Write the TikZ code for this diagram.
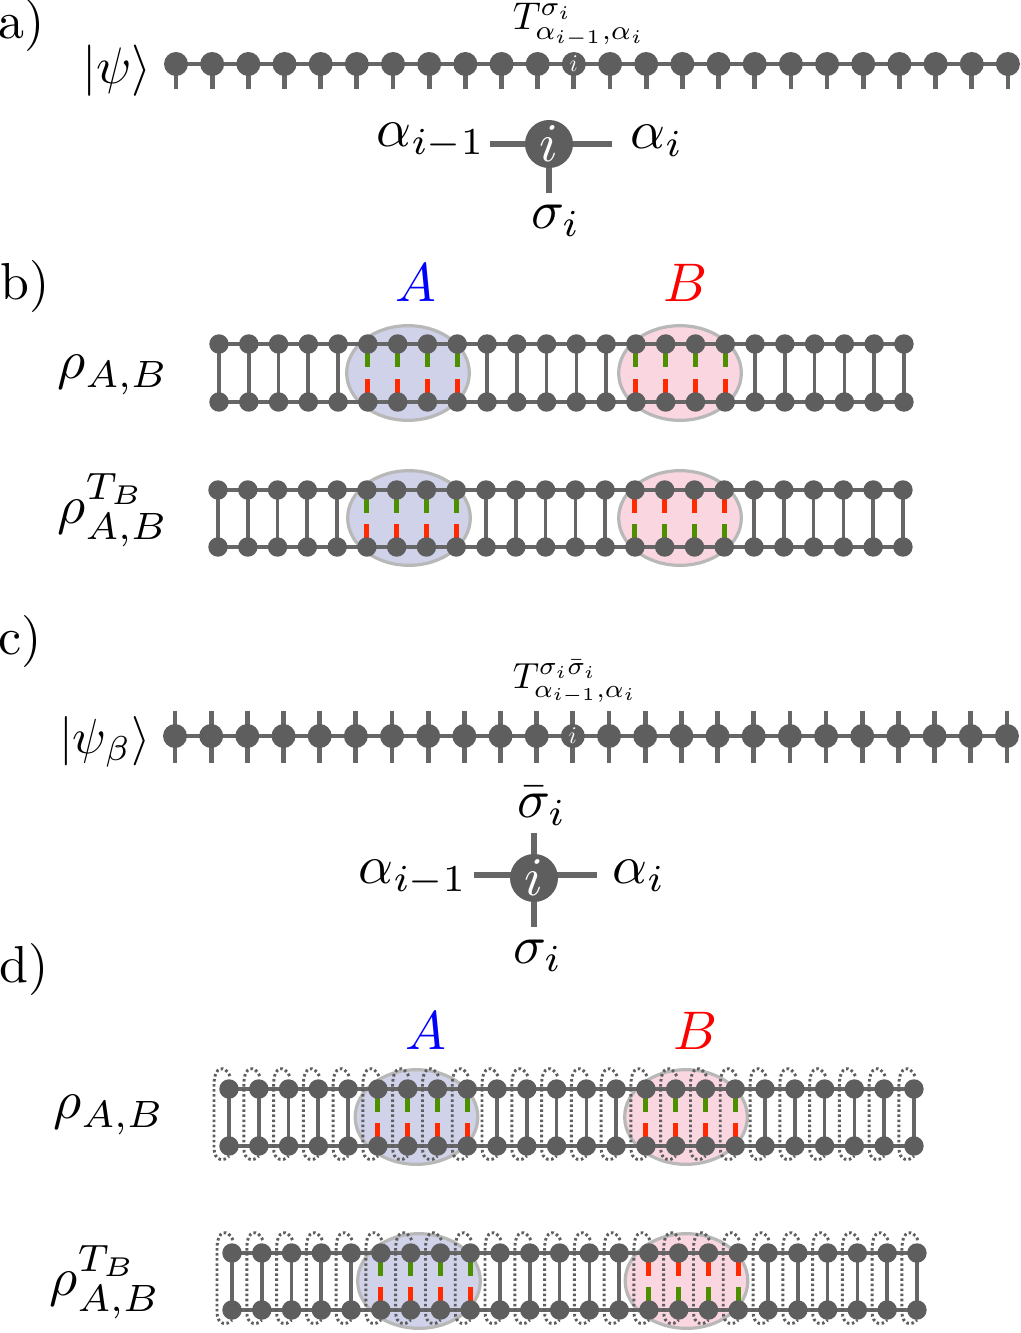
\documentclass[tikz,border=0pt]{standalone}
\usepackage{amsmath}
\usetikzlibrary{calc,shapes.geometric,backgrounds}
\definecolor{nodegrey}{HTML}{5E5E5E}
\definecolor{linegrey}{HTML}{666666}
\definecolor{blobblue}{HTML}{CFD2E8}
\definecolor{blobpink}{HTML}{F9D6E0}
\definecolor{blobedge}{HTML}{B8B8B8}
\definecolor{bargreen}{HTML}{4E8F00}
\definecolor{barred}{HTML}{FF2A00}
\pgfdeclarelayer{blobs}\pgfdeclarelayer{wires}
\pgfsetlayers{blobs,wires,main}
\tikzset{
  x=0.75pt,y=-0.75pt,
  smallsite/.style={circle,fill=nodegrey,draw=none,inner sep=0,minimum size=14.6pt},
  mpssite/.style={circle,fill=nodegrey,draw=none,inner sep=0,minimum size=18pt},
  tensor/.style={circle,fill=nodegrey,draw=none,inner sep=0,minimum size=36pt,text=white},
  wire/.style={draw=linegrey,line width=3.6pt},
  heavywire/.style={draw=linegrey,line width=4.4pt},
  thinwire/.style={draw=linegrey,line width=2.6pt},
  rung/.style={draw=linegrey,line width=2.8pt},
  gbar/.style={draw=bargreen,line width=3.8pt},
  rbar/.style={draw=barred,line width=3.8pt},
  blobA/.style={ellipse,draw=blobedge,fill=blobblue,line width=2.4pt,inner sep=0,minimum width=92pt,minimum height=71pt},
  blobB/.style={ellipse,draw=blobedge,fill=blobpink,line width=2.4pt,inner sep=0,minimum width=92pt,minimum height=71pt},
  loopline/.style={draw=nodegrey,line width=2.2pt,dash pattern=on 1.9pt off 1.9pt},
  big/.style={scale=4.08,inner sep=0},
  ket/.style={scale=3.85,inner sep=0},
  ketc/.style={scale=3.7,inner sep=0},
  lab/.style={scale=3.9,inner sep=0},
  small/.style={scale=2.9,inner sep=0},
  smallc/.style={scale=2.72,inner sep=0},
  tiny/.style={scale=1.8,inner sep=0,text=white},
}
\newcommand{\mpschain}[5]{%
  \foreach \k in {0,...,23}{%
    \node[mpssite] (#1\k) at ({#2+\k*36.17},#3) {};
    \begin{pgfonlayer}{wires}
      \draw[wire] ($(#1\k)+(0,#4)$) -- ($(#1\k)+(0,#5)$);
    \end{pgfonlayer}
  }
  \begin{pgfonlayer}{wires}
    \draw[wire] (#10.center) -- (#123.center);
  \end{pgfonlayer}
}
\newcommand{\ladder}[8]{%
  \foreach \k in {0,...,23}{%
    \node[smallsite] (#1t\k) at ({#2+\k*29.78},#3) {};
    \node[smallsite] (#1b\k) at ({#2+\k*29.78},#4) {};
  }
  \begin{pgfonlayer}{blobs}
    \node[blobA] (#1blobA) at (#5,#7) {};
    \node[blobB] (#1blobB) at (#6,#7) {};
  \end{pgfonlayer}
  \begin{pgfonlayer}{wires}
    \draw[thinwire] (#1t0.center) -- (#1t23.center);
    \draw[thinwire] (#1b0.center) -- (#1b23.center);
    \foreach \k in {0,1,2,3,4,9,10,11,12,13,18,19,20,21,22,23}{
      \draw[rung] (#1t\k.center) -- (#1b\k.center);
    }
    \foreach \k in {5,6,7,8}{
      \draw[gbar] (#1t\k.center) -- ($(#1t\k)+(0,23)$);
      \draw[rbar] (#1b\k.center) -- ($(#1b\k)+(0,-23)$);
    }
    \foreach \k in {14,15,16,17}{
      \draw[#8] (#1t\k.center) -- ($(#1t\k)+(0,23)$);
    }
  \end{pgfonlayer}
}
\newcommand{\lowbars}[2]{%
  \begin{pgfonlayer}{wires}
  \foreach \k in {14,15,16,17}{
    \draw[#2] (#1b\k.center) -- ($(#1b\k)+(0,-23)$);
  }
  \end{pgfonlayer}
}
\newcommand{\hoops}[1]{%
  \begin{pgfonlayer}{wires}
  \foreach \k in {0,...,23}{
    \draw[loopline] ($(#1t\k)+(1,-13)$) .. controls ($(#1t\k)+(-4,-24)$) and ($(#1t\k)+(-15,-24)$) .. ($(#1t\k)+(-15,-4)$)
      -- ($(#1b\k)+(-15,2)$) .. controls ($(#1b\k)+(-15,15)$) and ($(#1b\k)+(-5,16)$) .. ($(#1b\k)+(0,10)$);
  }
  \end{pgfonlayer}
}
\begin{document}
\begin{tikzpicture}
\useasboundingbox (0,0) rectangle (1020,1333);

% a)
\node[lab] (la) at (22,26) {a)};
\node[ket] (ketA) at (117,71) {$|\psi\rangle$};
\node[small] (tA) at (579,25) {$T^{\sigma_i}_{\alpha_{i-1},\alpha_i}$};
\mpschain{a}{176}{64}{0}{25}
\node[tiny] (ia) at (a11) {$i$};
\node[tensor] (Ta) at (549,144) {\scalebox{4.08}{$i$}};
\coordinate (Tal) at (490,144);
\coordinate (Tar) at (612,144);
\coordinate (Tad) at (549,193);
\begin{pgfonlayer}{wires}
  \draw[heavywire] (Tal) -- (Tar);
  \draw[heavywire] (Ta.center) -- (Tad);
\end{pgfonlayer}
\node[big] (alA) at (431,141) {$\alpha_{i-1}$};
\node[big] (arA) at (657,141) {$\alpha_i$};
\node[big] (sA) at (556,221) {$\sigma_i$};

% b)
\node[lab] (lb) at (25,287) {b)};
\node[big,text=blue] (Ab) at (416,283) {$A$};
\node[big,text=red] (Bb) at (685,283) {$B$};
\node[big] (r1) at (113,375) {$\rho_{A,B}$};
\node[big] (r2) at (113,510) {$\rho^{T_B}_{A,B}$};
\ladder{p}{219}{344}{402}{408}{680}{373}{gbar}
\lowbars{p}{rbar}
\ladder{q}{218}{490}{547}{409}{680}{518}{rbar}
\lowbars{q}{gbar}

% c)
\node[lab] (lc) at (20,641) {c)};
\node[ketc] (ketC) at (105,742) {$|\psi_\beta\rangle$};
\node[smallc] (tC) at (575,682) {$T^{\sigma_i\bar\sigma_i}_{\alpha_{i-1},\alpha_i}$};
\mpschain{c}{175}{736}{-25}{27}
\node[tiny] (ic) at (c11) {$i$};
\node[tensor] (Tc) at (534,878) {\scalebox{4.08}{$i$}};
\coordinate (Tcl) at (474,875);
\coordinate (Tcr) at (597,875);
\coordinate (Tcu) at (534,833);
\coordinate (Tcd) at (534,927);
\begin{pgfonlayer}{wires}
  \draw[heavywire] (Tcl) -- (Tcr);
  \draw[heavywire] (Tcu) -- (Tcd);
\end{pgfonlayer}
\node[big] (alC) at (413,878) {$\alpha_{i-1}$};
\node[big] (arC) at (639,876) {$\alpha_i$};
\node[big] (sbC) at (542,806) {$\bar\sigma_i$};
\node[big] (sC) at (538,956) {$\sigma_i$};

% d)
\node[lab] (ld) at (24,969) {d)};
\node[big,text=blue] (Ad) at (426,1031) {$A$};
\node[big,text=red] (Bd) at (695,1031) {$B$};
\node[big] (r3) at (109,1115) {$\rho_{A,B}$};
\node[big] (r4) at (105,1282) {$\rho^{T_B}_{A,B}$};
\ladder{u}{229}{1089}{1146}{416.5}{686}{1117}{gbar}
\lowbars{u}{rbar}
\hoops{u}
\ladder{v}{232}{1253}{1310}{419}{686.5}{1281}{rbar}
\lowbars{v}{gbar}
\hoops{v}
\end{tikzpicture}
\end{document}
